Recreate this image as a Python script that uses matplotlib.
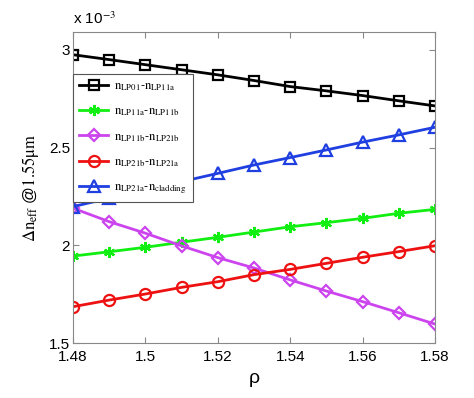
import matplotlib
matplotlib.use('Agg')
import matplotlib.pyplot as plt
import numpy as np

# rho values and delta n_eff (x 1e-3)
rho = [1.48, 1.49, 1.50, 1.51, 1.52, 1.53, 1.54, 1.55, 1.56, 1.57, 1.58]

lp01_lp11a = [2.975, 2.950, 2.924, 2.898, 2.872, 2.843, 2.812, 2.790, 2.766, 2.739, 2.713]
lp11a_lp11b = [1.945, 1.967, 1.990, 2.016, 2.041, 2.068, 2.095, 2.116, 2.138, 2.164, 2.184]
lp11b_lp21b = [2.190, 2.121, 2.062, 1.997, 1.937, 1.884, 1.823, 1.766, 1.712, 1.655, 1.597]
lp21b_lp21a = [1.686, 1.720, 1.751, 1.785, 1.814, 1.850, 1.877, 1.908, 1.939, 1.968, 1.998]
lp21a_clad = [2.198, 2.241, 2.280, 2.326, 2.368, 2.411, 2.449, 2.488, 2.528, 2.565, 2.604]

labels = [r'$\mathrm{n_{LP01}}$-$\mathrm{n_{LP11a}}$',
          r'$\mathrm{n_{LP11a}}$-$\mathrm{n_{LP11b}}$',
          r'$\mathrm{n_{LP11b}}$-$\mathrm{n_{LP21b}}$',
          r'$\mathrm{n_{LP21b}}$-$\mathrm{n_{LP21a}}$',
          r'$\mathrm{n_{LP21a}}$-$\mathrm{n_{cladding}}$']

plt.rcParams['font.family'] = ['Liberation Sans', 'DejaVu Sans']
plt.rcParams['mathtext.fontset'] = 'stix'

fig = plt.figure(figsize=(4.74, 3.98), dpi=100)
ax = fig.add_axes([0.154, 0.138, 0.764, 0.782])

series = [lp01_lp11a, lp11a_lp11b, lp11b_lp21b, lp21b_lp21a, lp21a_clad]
colors = ['black', '#11ee11', '#cc44ee', '#ee1111', '#1f3fe0']
markers = ['s', (6, 2, 0), 'D', 'o', '^']
sizes = [7, 8, 6.5, 8, 9]

for y, c, m, s, lab in zip(series, colors, markers, sizes, labels):
    ax.plot(rho, y, color=c, marker=m, markersize=s, markerfacecolor='none',
            markeredgecolor=c, markeredgewidth=1.6, linewidth=2, label=lab)

ax.set_xlim(1.48, 1.58)
ax.set_ylim(1.5, 3.092)
ax.set_xticks([1.48, 1.5, 1.52, 1.54, 1.56, 1.58])
ax.set_xticklabels(['1.48', '1.5', '1.52', '1.54', '1.56', '1.58'])
ax.set_yticks([1.5, 2, 2.5, 3])
ax.set_yticklabels(['1.5', '2', '2.5', '3'])
ax.tick_params(direction='in', top=True, right=True, labelsize=11, length=4,
               color='#888888')
ax.tick_params(axis='x', pad=5)
ax.tick_params(axis='y', pad=2)
for sp in ax.spines.values():
    sp.set_color('#888888')

ax.text(0.0, 1.015, r'x 10$^{-3}$', transform=ax.transAxes, fontsize=11,
        ha='left', va='bottom')
ax.set_xlabel('ρ', fontsize=14, labelpad=4)
ax.set_ylabel(r'$\Delta \mathrm{n_{eff}}$ @$\mathrm{1.55\mu m}$', fontsize=12, labelpad=6)

leg = ax.legend(loc='upper left', bbox_to_anchor=(0.0, 0.865), fontsize=9,
                fancybox=False, edgecolor='#555555', framealpha=1,
                borderaxespad=0, handlelength=2.3, borderpad=0.5,
                labelspacing=1.0, handletextpad=0.5)
leg.get_frame().set_linewidth(0.8)

fig.savefig('out.png', dpi=100)
